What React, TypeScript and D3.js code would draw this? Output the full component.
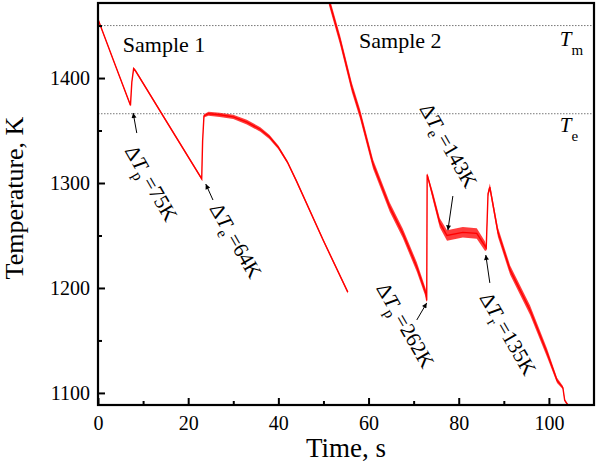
import * as d3 from 'd3';
import React, { useRef, useEffect } from 'react';

const width = 598;
const height = 465;
const margin = { top: 3, right: 4, bottom: 60, left: 98 };

const xTicks = [0, 20, 40, 60, 80, 100];
const xMinorTicks = [10, 30, 50, 70, 90];
const yTicks = [1100, 1200, 1300, 1400];
const yMinorTicks = [1150, 1250, 1350, 1450];

const meltingT = 1450;
const eutecticT = 1366;

// [time s, temperature K, noise half-width K]
const sample1: number[][] = [
  [0, 1456, 1],
  [3.5, 1416, 1],
  [7.2, 1374, 1],
  [7.5, 1396, 0.5],
  [7.9, 1409, 1.2],
  [8.3, 1407, 1.2],
  [15, 1360, 1.2],
  [23.0, 1304, 1.2],
  [23.2, 1340, 0.5],
  [23.5, 1364, 1.5],
  [24.5, 1366, 2],
  [27, 1365, 2],
  [30, 1363, 2],
  [33, 1358, 2.2],
  [36, 1351, 2.2],
  [38, 1344, 2],
  [40, 1334, 1.8],
  [42, 1320, 1.5],
  [44, 1302, 1.4],
  [50, 1245, 1.3],
  [55.4, 1196, 1.2],
];

const sample2: number[][] = [
  [51.2, 1474, 4.5],
  [53.7, 1436, 4.5],
  [56.3, 1391, 4.5],
  [58.1, 1366, 4.5],
  [61.0, 1318, 4.5],
  [64.7, 1277, 4.5],
  [67.6, 1252, 4.5],
  [70.7, 1220, 4.5],
  [72.7, 1195, 4],
  [72.9, 1188, 2.5],
  [73.0, 1308, 1.5],
  [74.3, 1287, 4],
  [75.8, 1262, 4.5],
  [77.4, 1250, 5],
  [80.9, 1253, 5],
  [84.0, 1252, 5],
  [85.8, 1240, 4.5],
  [86.1, 1238, 2.5],
  [86.5, 1290, 2.5],
  [86.9, 1296, 3.5],
  [88.7, 1253, 4.5],
  [91.4, 1217, 4.5],
  [95.8, 1179, 4.5],
  [99.6, 1138, 4],
  [101.8, 1112, 2.5],
  [103.1, 1105, 1.5],
  [103.5, 1093, 1.2],
  [104.6, 1086, 1],
];

// label anchor (t, T), arrow tail and arrow tip in data units
const deltaLabels = [
  { sub: 'p', value: '75K', t: 5.8, T: 1331, tail: [8.6, 1347.6], tip: [7.8, 1366.7] },
  { sub: 'e', value: '64K', t: 24.6, T: 1276, tail: [25.5, 1283.8], tip: [23.9, 1299] },
  { sub: 'e', value: '143K', t: 71.2, T: 1371, tail: [78.7, 1287.6], tip: [77.6, 1255] },
  { sub: 'p', value: '262K', t: 61.6, T: 1200, tail: [70.7, 1169.5], tip: [72.9, 1185.7] },
  { sub: 'r', value: '135K', t: 84.5, T: 1191, tail: [86.9, 1204.8], tip: [86.0, 1231.4] },
];

const sampleLabels = [
  { text: 'Sample 1', t: 5.5, T: 1425 },
  { text: 'Sample 2', t: 57.9, T: 1428.6 },
];

const levelLabels = [
  { sub: 'm', t: 102.4, T: 1430.5 },
  { sub: 'e', t: 102.4, T: 1348.6 },
];

const font = "'Liberation Serif', 'Times New Roman', serif";

function App(): any {
  const ref = useRef(null);

  useEffect(() => {
    const svg = d3.select(ref.current);
    svg.selectAll('*').remove();

    const xScale = d3
      .scaleLinear()
      .domain([0, 110])
      .range([margin.left, width - margin.right]);

    const yScale = d3
      .scaleLinear()
      .domain([1088.5, 1471.5])
      .range([height - margin.bottom, margin.top]);

    const plotW = width - margin.left - margin.right;
    const plotH = height - margin.top - margin.bottom;

    svg.append('defs')
      .append('clipPath')
      .attr('id', 'plot-clip')
      .append('rect')
      .attr('x', margin.left)
      .attr('y', margin.top)
      .attr('width', plotW)
      .attr('height', plotH);

    const marker = svg.select('defs')
      .append('marker')
      .attr('id', 'arrowhead')
      .attr('viewBox', '0 0 10 10')
      .attr('refX', 10)
      .attr('refY', 5)
      .attr('markerWidth', 7)
      .attr('markerHeight', 5)
      .attr('markerUnits', 'userSpaceOnUse')
      .attr('orient', 'auto');
    marker.append('path').attr('d', 'M0,0 L10,5 L0,10 Z').attr('fill', 'black');

    // level lines
    [meltingT, eutecticT].forEach((T) => {
      svg.append('line')
        .attr('x1', margin.left)
        .attr('x2', width - margin.right)
        .attr('y1', yScale(T))
        .attr('y2', yScale(T))
        .attr('stroke', '#555')
        .attr('stroke-width', 0.8)
        .attr('stroke-dasharray', '1.5,1.5');
    });

    const data = svg.append('g').attr('clip-path', 'url(#plot-clip)');
    const band = d3.area<number[]>()
      .x((d) => xScale(d[0]))
      .y0((d) => yScale(d[1] - d[2]))
      .y1((d) => yScale(d[1] + d[2]));
    const line = d3.line<number[]>()
      .x((d) => xScale(d[0]))
      .y((d) => yScale(d[1]));

    [sample1, sample2].forEach((s) => {
      data.append('path')
        .attr('d', band(s))
        .attr('fill', '#ff1a1a')
        .attr('opacity', 0.85);
      data.append('path')
        .attr('d', line(s))
        .attr('fill', 'none')
        .attr('stroke', '#ff0000')
        .attr('stroke-width', 1.4);
    });

    // axes
    const fmt = d3.format('d');
    const xAxis = svg.append('g')
      .attr('transform', 'translate(0,' + (height - margin.bottom) + ')')
      .call(d3.axisBottom(xScale).tickValues(xTicks).tickSize(-7).tickSizeOuter(0).tickPadding(11).tickFormat(fmt));
    svg.append('g')
      .attr('transform', 'translate(0,' + (height - margin.bottom) + ')')
      .call(d3.axisBottom(xScale).tickValues(xMinorTicks).tickSize(-4).tickSizeOuter(0).tickFormat(() => ''));
    const yAxis = svg.append('g')
      .attr('transform', 'translate(' + margin.left + ',0)')
      .call(d3.axisLeft(yScale).tickValues(yTicks).tickSize(-7).tickSizeOuter(0).tickPadding(8).tickFormat(fmt));
    svg.append('g')
      .attr('transform', 'translate(' + margin.left + ',0)')
      .call(d3.axisLeft(yScale).tickValues(yMinorTicks).tickSize(-4).tickSizeOuter(0).tickFormat(() => ''));

    svg.selectAll('.domain').remove();
    svg.selectAll('.tick line').attr('stroke', 'black').attr('stroke-width', 2);
    [xAxis, yAxis].forEach((a) => {
      a.selectAll('text')
        .attr('font-family', font)
        .attr('font-size', 20)
        .attr('fill', 'black');
    });

    svg.append('rect')
      .attr('x', margin.left)
      .attr('y', margin.top)
      .attr('width', plotW)
      .attr('height', plotH)
      .attr('fill', 'none')
      .attr('stroke', 'black')
      .attr('stroke-width', 2.2);

    // axis titles
    svg.append('text')
      .attr('x', (margin.left + width - margin.right) / 2)
      .attr('y', 457)
      .attr('text-anchor', 'middle')
      .attr('font-family', font)
      .attr('font-size', 27)
      .text('Time, s');
    svg.append('text')
      .attr('transform', 'translate(23,' + 198 + ') rotate(-90)')
      .attr('text-anchor', 'middle')
      .attr('font-family', font)
      .attr('font-size', 26)
      .text('Temperature, K');

    sampleLabels.forEach((l) => {
      svg.append('text')
        .attr('x', xScale(l.t))
        .attr('y', yScale(l.T))
        .attr('font-family', font)
        .attr('font-size', 22)
        .text(l.text);
    });

    levelLabels.forEach((l) => {
      const t = svg.append('text')
        .attr('x', xScale(l.t))
        .attr('y', yScale(l.T))
        .attr('font-family', font)
        .attr('font-size', 21);
      t.append('tspan').attr('font-style', 'italic').text('T');
      t.append('tspan').attr('font-size', 15).attr('dy', 9).text(l.sub);
    });

    deltaLabels.forEach((l) => {
      const t = svg.append('text')
        .attr('transform', 'translate(' + xScale(l.t) + ',' + yScale(l.T) + ') rotate(60)')
        .attr('font-family', font)
        .attr('font-size', 21);
      t.append('tspan').text('Δ');
      t.append('tspan').attr('font-style', 'italic').text('T');
      t.append('tspan').attr('font-size', 15).attr('dy', 6).text(l.sub);
      t.append('tspan').attr('dy', -6).attr('dx', 3).text('=' + l.value);

      svg.append('line')
        .attr('x1', xScale(l.tail[0]))
        .attr('y1', yScale(l.tail[1]))
        .attr('x2', xScale(l.tip[0]))
        .attr('y2', yScale(l.tip[1]))
        .attr('stroke', 'black')
        .attr('stroke-width', 1)
        .attr('marker-end', 'url(#arrowhead)');
    });
  }, []);

  return (
    <svg
      ref={ref}
      width={width}
      height={height}
      style={{ position: 'absolute', left: 0, top: 0, background: 'white' }}
    />
  );
}

export default App;
